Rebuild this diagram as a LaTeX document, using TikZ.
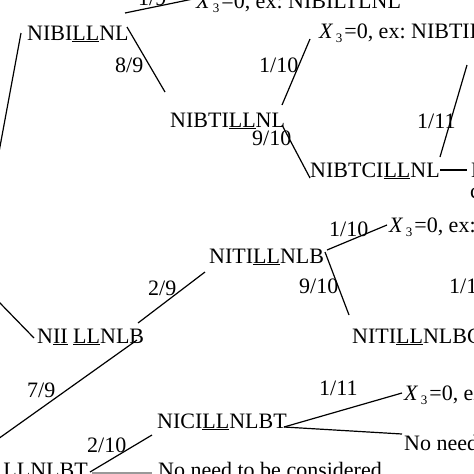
\documentclass[tikz,border=0pt]{standalone}
\usepackage{fontspec}
\setmainfont{Liberation Serif}
\newcommand{\xzero}{\textit{X}\kern2.5pt\raisebox{-4pt}{\fontsize{13}{13}\selectfont 3}\kern2pt=0, ex:\ }
\newcommand{\ul}[1]{\underline{#1}}
\begin{document}
\begin{tikzpicture}[x=1pt,y=-1pt,
  txt/.style={inner sep=0pt, font=\fontsize{22}{26}\selectfont, anchor=base west},
  edge/.style={line width=1.2pt, black}]
\useasboundingbox (0,0) rectangle (474,474);
% ---------- text nodes ----------
\node[txt] (l19) at (138,5) {1/9};
\node[txt] (x1) at (196,8) {\xzero NIBILTLNL};
\node[txt] (n1) at (27,40) {NIBI\ul{LL}NL};
\node[txt] (l89) at (115,72) {8/9};
\node[txt] (n2) at (170,127) {NIBTI\ul{LL}NL};
\node[txt] (l110a) at (259,72) {1/10};
\node[txt] (x2) at (319,38) {\xzero NIBTILTLNL};
\node[txt] (l910a) at (252,145) {9/10};
\node[txt] (n3) at (310,177) {NIBTCI\ul{LL}NL};
\node[txt] (l111a) at (417,128) {1/11};
\node[txt] (nn0) at (471,177) {No need to be};
\node[txt] (nn0b) at (470,198) {considered};
\node[txt] (l110b) at (329,236) {1/10};
\node[txt] (x3) at (389,232) {\xzero NITILTLNLB};
\node[txt] (n4) at (209,263) {NITI\ul{LL}NLB};
\node[txt] (l29) at (148,295) {2/9};
\node[txt] (l910b) at (299,293) {9/10};
\node[txt] (l111c) at (449,293) {1/11};
\node[txt] (n5) at (352,343) {NITI\ul{LL}NLBC};
\node[txt] (n6) at (37,343) {N\ul{II} \ul{LL}NLB};
\node[txt] (l79) at (27,397) {7/9};
\node[txt] (n7) at (157,428) {NICI\ul{LL}NLBT};
\node[txt] (l210) at (87,452) {2/10};
\node[txt, anchor=base east] (n8) at (88,477) {NII \ul{LL}NLBT};
\node[txt] (nn1) at (158,477) {No need to be considered};
\node[txt] (l111b) at (319,395) {1/11};
\node[txt] (x4) at (404,400) {\xzero NICITLLNLBT};
\node[txt] (nn2) at (404,450) {No need to be considered};
% ---------- connector end points ----------
\coordinate (a1) at (125,13);  \coordinate (a2) at (193,-1);
\coordinate (b1) at (127,27);  \coordinate (b2) at (165,92);
\coordinate (c1) at (21,33);   \coordinate (c2) at (-1,152);
\coordinate (d1) at (282,105); \coordinate (d2) at (310,39);
\coordinate (e1) at (282,125); \coordinate (e2) at (310,178);
\coordinate (f1) at (440,157); \coordinate (f2) at (467,65);
\coordinate (g1) at (440,170); \coordinate (g2) at (467,170);
\coordinate (h1) at (327,250); \coordinate (h2) at (387,225);
\coordinate (i1) at (325,252); \coordinate (i2) at (349,315);
\coordinate (j1) at (138,323); \coordinate (j2) at (205,272);
\coordinate (k1) at (-1,302);  \coordinate (k2) at (34,338);
\coordinate (m1) at (137,340); \coordinate (m2) at (-2,439);
\coordinate (o1) at (90,472);  \coordinate (o2) at (152,435);
\coordinate (p1) at (92,473);  \coordinate (p2) at (152,473);
\coordinate (q1) at (284,427); \coordinate (q2) at (402,393);
\coordinate (q3) at (402,434);
% ---------- connectors ----------
\draw[edge] (a1) -- (a2);
\draw[edge] (b1) -- (b2);
\draw[edge] (c1) -- (c2);
\draw[edge] (d1) -- (d2);
\draw[edge] (e1) -- (e2);
\draw[edge] (f1) -- (f2);
\draw[edge] (g1) -- (g2);
\draw[edge] (h1) -- (h2);
\draw[edge] (i1) -- (i2);
\draw[edge] (j1) -- (j2);
\draw[edge] (k1) -- (k2);
\draw[edge] (m1) -- (m2);
\draw[edge] (o1) -- (o2);
\draw[edge, black!40] (p1) -- (p2);
\draw[edge] (q1) -- (q2);
\draw[edge] (q1) -- (q3);
\end{tikzpicture}
\end{document}
